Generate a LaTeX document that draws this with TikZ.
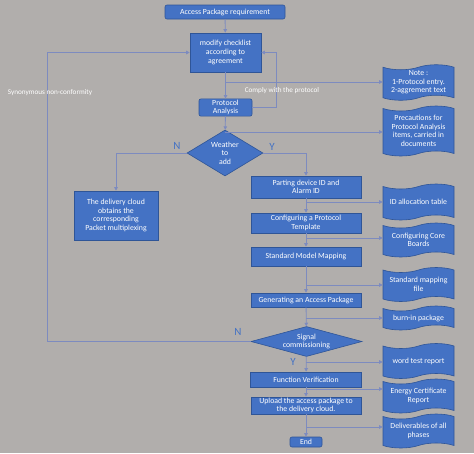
\documentclass[tikz,border=0pt]{standalone}
\usepackage{fontspec}
\setmainfont{Carlito}
\usetikzlibrary{positioning,calc,arrows.meta,shapes.geometric,shapes.symbols}
\definecolor{bggray}{HTML}{B1AEAC}
\definecolor{boxblue}{HTML}{4472C4}
\definecolor{boxline}{HTML}{2F5597}
\definecolor{flowline}{HTML}{7D8BBF}
\tikzset{>={Triangle[length=3.5pt,width=3.5pt]},
  stepbox/.style={draw=boxline,fill=boxblue,text=white,line width=.6pt,
    font=\fontsize{7.8}{8.6}\selectfont,align=center,inner sep=1pt},
  roundbox/.style={stepbox,rounded corners=2pt},
  decide/.style={stepbox,diamond,inner sep=0pt},
  docbox/.style={stepbox,tape,tape bend top=in and out,tape bend bottom=in and out,
    tape bend height=5pt,minimum width=71},
  flow/.style={draw=flowline,line width=.8pt},
  yesno/.style={text=boxblue,font=\fontsize{11}{12}\selectfont},
  note/.style={text=white,font=\fontsize{7.2}{8}\selectfont}}

\begin{document}
\begin{tikzpicture}[x=1pt,y=-1pt]
\fill[bggray] (0,0) rectangle (474,453);
\node[roundbox,minimum width=120,minimum height=14] (req) at (225,12) {Access Package requirement};
\node[stepbox,minimum width=71,minimum height=39] (modify) at (225.5,52.5) {modify checklist\\according to\\agreement};
\node[roundbox,minimum width=53,minimum height=17] (proto) at (225.5,107.5) {Protocol\\Analysis};
\node[decide,aspect=1.65,minimum width=76,minimum height=46] (weather) at (225,153) {Weather\\to\\add};
\node[stepbox,minimum width=84,minimum height=49] (cloud) at (116,215.5) {The delivery cloud\\obtains the\\corresponding\\Packet multiplexing};
\node[stepbox,minimum width=110,minimum height=22] (part) at (306,187) {Parting device ID and\\Alarm ID};
\node[stepbox,minimum width=110,minimum height=20] (config) at (306,223) {Configuring a Protocol\\Template};
\node[stepbox,minimum width=110,minimum height=19] (mapping) at (306,256.5) {Standard Model Mapping};
\node[stepbox,minimum width=110,minimum height=14] (gen) at (306,300) {Generating an Access Package};
\node[decide,aspect=3.7,minimum width=111,minimum height=30] (signal) at (306.5,341.5) {Signal\\commissioning};
\node[stepbox,minimum width=111,minimum height=15] (verify) at (306,379.5) {Function Verification};
\node[stepbox,minimum width=110,minimum height=17] (upload) at (306,405.5) {Upload the access package to\\the delivery cloud.};
\node[roundbox,minimum width=32,minimum height=10] (end) at (306,442) {End};

\node[docbox,minimum height=35] (notes) at (418.5,82.5) {Note :\\1-Protocol entry.\\2-aggrement text};
\node[docbox,minimum height=50] (prec) at (418.5,131) {Precautions for\\Protocol Analysis\\items, carried in\\documents};
\node[docbox,minimum height=36] (idtab) at (418.5,202) {ID allocation table};
\node[docbox,minimum height=34] (core) at (418.5,240) {Configuring Core\\Boards};
\node[docbox,minimum height=34] (mapfile) at (418.5,284.5) {Standard mapping\\file};
\node[docbox,minimum height=24] (burn) at (418.5,318) {burn-in package};
\node[docbox,minimum height=35] (word) at (418.5,361) {word test report};
\node[docbox,minimum height=34] (energy) at (418.5,396) {Energy Certificate\\Report};
\node[docbox,minimum height=34] (deliv) at (418.5,431) {Deliverables of all\\phases};

\coordinate (b1) at (225,82);
\coordinate (b2) at (225,132);
\coordinate (b3) at (306,202);
\coordinate (b4) at (306,238);
\coordinate (b5) at (306,285);
\coordinate (b6) at (306,318);
\coordinate (b7) at (306,362);
\coordinate (b8) at (306,389);
\coordinate (b9) at (306,427);
\coordinate (fb) at (276,0);
\coordinate (nc) at (47,0);

\draw[flow,->] (req) -- (modify);
\draw[flow,->] (modify) -- (proto);
\draw[flow,->] (proto) -- (weather);
\draw[flow,->] (b1) -- (b1 -| notes.west);
\draw[flow,->] (b2) -- (b2 -| prec.west);
\draw[flow,->] (proto.east) -- (fb |- proto.east) |- (modify.east);
\draw[flow,->] (weather.west) -| (cloud.north);
\draw[flow,->] (weather.east) -| (part.north);
\draw[flow,->] (part) -- (config);
\draw[flow,->] (config) -- (mapping);
\draw[flow,->] (mapping) -- (gen);
\draw[flow,->] (gen) -- (signal);
\draw[flow,->] (signal) -- (verify);
\draw[flow,->] (verify) -- (upload);
\draw[flow,->] (upload) -- (end);
\draw[flow,->] (b3) -- (b3 -| idtab.west);
\draw[flow,->] (b4) -- (b4 -| core.west);
\draw[flow,->] (b5) -- (b5 -| mapfile.west);
\draw[flow,->] (b6) -- (b6 -| burn.west);
\draw[flow,->] (b7) -- (b7 -| word.west);
\draw[flow,->] (b8) -- (b8 -| energy.west);
\draw[flow,->] (b9) -- (b9 -| deliv.west);
\draw[flow,->] (signal.west) -- (nc |- signal.west) |- (modify.west);

\node[yesno] (n1) at (177,146) {N};
\node[yesno] (y1) at (272,147) {Y};
\node[yesno] (n2) at (238,332) {N};
\node[yesno] (y2) at (293,362) {Y};
\node[note] (comply) at (282,91) {Comply with the protocol};
\node[note] (nonconf) at (50,93) {Synonymous non-conformity};
\end{tikzpicture}
\end{document}
